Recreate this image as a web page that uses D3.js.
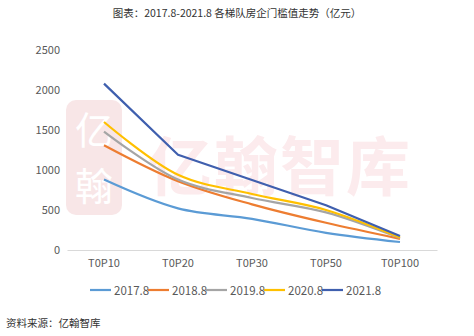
<!DOCTYPE html>
<html><head><meta charset="utf-8">
<script src="https://cdn.jsdelivr.net/npm/d3@7"></script>
<style>body{margin:0;background:#fff;}svg{display:block;font-family:"Noto Sans CJK SC","Microsoft YaHei",sans-serif;}</style>
</head><body><svg id="c" width="474" height="336"></svg>
<script>
const categories = ["T0P10","T0P20","T0P30","T0P50","T0P100"];
const seriesNames = ["2017.8","2018.8","2019.8","2020.8","2021.8"];
const v2017 = [880, 520, 390, 215, 100];
const v2018 = [1310, 860, 570, 340, 140];
const v2019 = [1480, 880, 650, 470, 150];
const v2020 = [1600, 940, 700, 500, 155];
const v2021 = [2080, 1190, 875, 560, 175];
const yTicks = [0, 500, 1000, 1500, 2000, 2500];
const colors = ["#5B9BD5","#ED7D31","#A5A5A5","#FFC000","#3F5FAE"];
const smooth = [true, true, true, true, false];
const allValues = [v2017, v2018, v2019, v2020, v2021];

const svg = d3.select("#c");
const x = d3.scaleBand().domain(categories).range([67, 437]);
const y = d3.scaleLinear().domain([0, 2500]).range([250, 50]);

// watermark
const wm = svg.append("g");
wm.append("rect").attr("x",66).attr("y",100).attr("width",56).attr("height",115).attr("rx",10).attr("fill","#f8e6e7");
wm.append("text").attr("x",94).attr("y",144).attr("text-anchor","middle").attr("font-size",38).attr("fill","#fff").text("亿");
wm.append("text").attr("x",94).attr("y",200).attr("text-anchor","middle").attr("font-size",38).attr("fill","#fff").text("翰");
wm.append("text").attr("x",148).attr("y",190).attr("font-size",64).attr("font-weight","bold").attr("fill","#fcebed").attr("textLength",262).text("亿翰智库");

// title
svg.append("text").attr("x",237).attr("y",17).attr("text-anchor","middle").attr("font-size",10.5).attr("fill","#333").text("图表：2017.8-2021.8 各梯队房企门槛值走势（亿元）");

// y axis labels
const ya = svg.append("g").attr("transform","translate(60,0)").call(d3.axisLeft(y).tickValues(yTicks).tickFormat(d3.format("d")).tickSize(0).tickPadding(0));
ya.select(".domain").remove();
ya.selectAll("text").attr("font-size",11).attr("fill","#595959").attr("font-family","'Noto Sans CJK SC',sans-serif");

// x axis
const xa = svg.append("g").attr("transform","translate(0,250)").call(d3.axisBottom(x).tickSize(0).tickPadding(9));
xa.select(".domain").attr("stroke","#d9d9d9");
xa.selectAll("text").attr("font-size",11).attr("fill","#595959").attr("font-family","'Noto Sans CJK SC',sans-serif");

// lines
allValues.forEach((vals, i) => {
  const line = d3.line().x((d, j) => x(categories[j]) + x.bandwidth()/2).y(d => y(d))
    .curve(smooth[i] ? d3.curveCatmullRom.alpha(0.5) : d3.curveLinear);
  svg.append("path").datum(vals).attr("d", line).attr("fill","none").attr("stroke",colors[i]).attr("stroke-width",2.2).attr("stroke-linejoin","round");
});

// legend
const lg = svg.append("g");
const lx = [90, 148, 206, 264, 322];
seriesNames.forEach((n, i) => {
  lg.append("line").attr("x1",lx[i]).attr("x2",lx[i]+21).attr("y1",290).attr("y2",290).attr("stroke",colors[i]).attr("stroke-width",2.2);
  lg.append("text").attr("x",lx[i]+24).attr("y",294.5).attr("font-size",11.5).attr("fill","#595959").text(n);
});

// source
svg.append("text").attr("x",6).attr("y",327).attr("font-size",10.5).attr("fill","#333").text("资料来源：亿翰智库");
</script></body></html>
